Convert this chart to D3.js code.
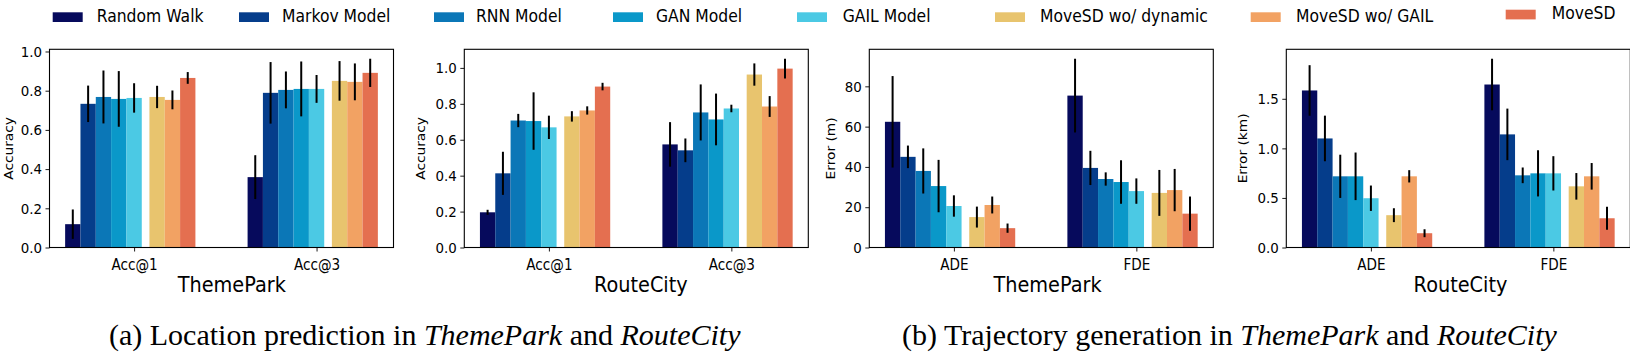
<!DOCTYPE html>
<html><head><meta charset="utf-8">
<script src="https://cdn.jsdelivr.net/npm/d3@7"></script>
<style>
body{margin:0;background:#fff;}
svg text{font-family:"DejaVu Sans",sans-serif;fill:#000;}
</style></head><body>
<svg id="c" width="1630" height="355"></svg>
<script>
// ---------------- data ----------------
const seriesNames = ["Random Walk","Markov Model","RNN Model","GAN Model","GAIL Model","MoveSD wo/ dynamic","MoveSD wo/ GAIL","MoveSD"];
const seriesColors = ["#060a5c","#053d8b","#0b77b7","#0a98c9","#4bc9e4","#e8c46e","#f2a263","#e46f50"];
const accCategories = ["Acc@1","Acc@3"];
const errCategories = ["ADE","FDE"];

// ThemePark accuracy (mean, std) per series: [Acc@1, Acc@3]
const themeParkAccMean = [[0.119,0.359],[0.733,0.789],[0.768,0.804],[0.758,0.809],[0.763,0.809],[0.768,0.850],[0.753,0.845],[0.865,0.891]];
const themeParkAccErr  = [[0.075,0.112],[0.093,0.157],[0.135,0.094],[0.142,0.140],[0.075,0.071],[0.057,0.101],[0.048,0.094],[0.030,0.072]];
// RouteCity accuracy
const routeCityAccMean = [[0.196,0.574],[0.413,0.541],[0.707,0.752],[0.704,0.713],[0.669,0.774],[0.730,0.963],[0.763,0.785],[0.896,0.996]];
const routeCityAccErr  = [[0.014,0.124],[0.120,0.066],[0.037,0.156],[0.160,0.144],[0.065,0.021],[0.029,0.062],[0.023,0.058],[0.021,0.055]];
// ThemePark error (m): [ADE, FDE]
const themeParkErrMean = [[62.4,75.4],[45.0,39.5],[38.0,34.0],[30.5,32.5],[20.6,28.0],[15.1,27.1],[21.1,28.5],[9.6,16.8]];
const themeParkErrErr  = [[22.7,18.3],[5.6,8.5],[11.2,3.3],[13.0,10.8],[5.3,6.3],[5.2,11.4],[4.2,10.5],[2.3,8.5]];
// RouteCity error (km)
const routeCityErrMean = [[1.584,1.644],[1.100,1.141],[0.718,0.728],[0.718,0.748],[0.497,0.748],[0.326,0.617],[0.718,0.718],[0.144,0.295]];
const routeCityErrErr  = [[0.255,0.260],[0.230,0.260],[0.218,0.079],[0.240,0.233],[0.128,0.173],[0.070,0.134],[0.062,0.134],[0.040,0.116]];

const accTicks = [0,0.2,0.4,0.6,0.8,1.0];
const tpErrTicks = [0,20,40,60,80];
const rcErrTicks = [0,0.5,1.0,1.5];

// ---------------- layout ----------------
const VS = 1.11;            // vertical stretch of the figure's glyphs
const TOP = 49.3, BOTTOM = 247.5, W = 344;
const BW = 0.084;           // bar width in category units
const barOffsets = [-4,-3,-2,-1,0,1.5,2.5,3.5];

const panels = [
  {left:49.5,  cats:accCategories, mean:themeParkAccMean, err:themeParkAccErr, ticks:accTicks, fmt:".1f", ylabel:"Accuracy",   ylx:12.5,  xtitle:"ThemePark", xtx:231.8},
  {left:464.3, cats:accCategories, mean:routeCityAccMean, err:routeCityAccErr, ticks:accTicks, fmt:".1f", ylabel:"Accuracy",   ylx:424.5, xtitle:"RouteCity", xtx:640.8},
  {left:869.3, cats:errCategories, mean:themeParkErrMean, err:themeParkErrErr, ticks:tpErrTicks, fmt:"d", ylabel:"Error (m)",  ylx:835,   xtitle:"ThemePark", xtx:1047.5},
  {left:1286.3,cats:errCategories, mean:routeCityErrMean, err:routeCityErrErr, ticks:rcErrTicks, fmt:".1f", ylabel:"Error (km)", ylx:1247,  xtitle:"RouteCity", xtx:1460.5}
];

const svg = d3.select("#c");

panels.forEach(p => {
  const lo = barOffsets[0]*BW - BW/2, hi = 1 + barOffsets[barOffsets.length-1]*BW + BW/2;
  const m = 0.05*(hi-lo);
  const x = d3.scaleLinear().domain([lo-m, hi+m]).range([p.left, p.left+W]);
  let maxTop = 0;
  p.mean.forEach((row,s)=>row.forEach((v,c)=>{maxTop=Math.max(maxTop, v+p.err[s][c]);}));
  const y = d3.scaleLinear().domain([0, maxTop*1.05]).range([BOTTOM, TOP]);
  const g = svg.append("g");

  const bars = [];
  p.mean.forEach((row,s)=>row.forEach((v,c)=>bars.push({s,c,v,e:p.err[s][c]})));

  g.selectAll("rect.bar").data(bars).join("rect").attr("class","bar")
    .attr("x", d => x(d.c + (barOffsets[d.s]-0.5)*BW))
    .attr("width", d => x(d.c + (barOffsets[d.s]+0.5)*BW) - x(d.c + (barOffsets[d.s]-0.5)*BW))
    .attr("y", d => y(d.v))
    .attr("height", d => y(0) - y(d.v))
    .attr("fill", d => seriesColors[d.s]);

  g.selectAll("line.err").data(bars).join("line").attr("class","err")
    .attr("x1", d => x(d.c + barOffsets[d.s]*BW)).attr("x2", d => x(d.c + barOffsets[d.s]*BW))
    .attr("y1", d => y(Math.max(0,d.v-d.e))).attr("y2", d => y(d.v+d.e))
    .attr("stroke","#000").attr("stroke-width",2);

  // axes
  const xa = g.append("g").attr("transform",`translate(0,${BOTTOM})`)
    .call(d3.axisBottom(x).tickValues(p.cats.map((_,i)=>i)).tickFormat(i=>p.cats[i]).tickSize(4).tickSizeOuter(0));
  xa.select(".domain").remove();
  xa.selectAll(".tick line").attr("stroke","#000").attr("stroke-width",0.9);
  xa.selectAll(".tick text").attr("y",11).attr("font-size",13.6)
    .style("font-family","DejaVu Sans").attr("transform",`scale(1,${VS})`);

  const ya = g.append("g").attr("transform",`translate(${p.left},0)`)
    .call(d3.axisLeft(y).tickValues(p.ticks).tickFormat(d3.format(p.fmt)).tickSize(4).tickSizeOuter(0));
  ya.select(".domain").remove();
  ya.selectAll(".tick line").attr("stroke","#000").attr("stroke-width",0.9);
  ya.selectAll(".tick text").attr("x",-7.5).attr("font-size",13.4)
    .style("font-family","DejaVu Sans").attr("transform",`scale(1,${VS})`);

  // frame
  g.append("rect").attr("x",p.left).attr("y",TOP).attr("width",W).attr("height",BOTTOM-TOP)
    .attr("fill","none").attr("stroke","#000").attr("stroke-width",1.1);

  // y label
  g.append("text").attr("text-anchor","middle").attr("font-size",12.4)
    .attr("transform",`translate(${p.ylx},${(TOP+BOTTOM)/2}) rotate(-90) scale(${VS},1)`)
    .text(p.ylabel);
  // x title
  g.append("text").attr("text-anchor","middle").attr("font-size",19.3)
    .attr("transform",`translate(${p.xtx},292) scale(1,${VS})`)
    .text(p.xtitle);
});

// legend
const legendPos = [[52.7,96.7,0],[239,282,0],[434,476,0],[613,656,0],[797,842.7,0],[995,1040,0],[1250.7,1296,0],[1505.7,1551.7,-2.6]];
const lg = svg.append("g").selectAll("g").data(seriesNames).join("g");
lg.append("rect").attr("x",(d,i)=>legendPos[i][0]).attr("y",(d,i)=>12.3+legendPos[i][2])
  .attr("width",30).attr("height",9.7).attr("fill",(d,i)=>seriesColors[i]);
lg.append("text").attr("font-size",15.6)
  .attr("transform",(d,i)=>`translate(${legendPos[i][1]},${22+legendPos[i][2]}) scale(1,${VS})`)
  .text(d=>d);

// captions
const captions = [
  {x:109, parts:[["(a) Location prediction in ",false],["ThemePark",true],[" and ",false],["RouteCity",true]]},
  {x:902, parts:[["(b) Trajectory generation in ",false],["ThemePark",true],[" and ",false],["RouteCity",true]]}
];
captions.forEach(c=>{
  const t = svg.append("text").attr("x",c.x).attr("y",345).attr("font-size",30)
    .style("font-family","'Liberation Serif','Times New Roman',serif");
  c.parts.forEach(([s,it])=>t.append("tspan").attr("font-style",it?"italic":"normal").text(s));
});
</script>
</body></html>
